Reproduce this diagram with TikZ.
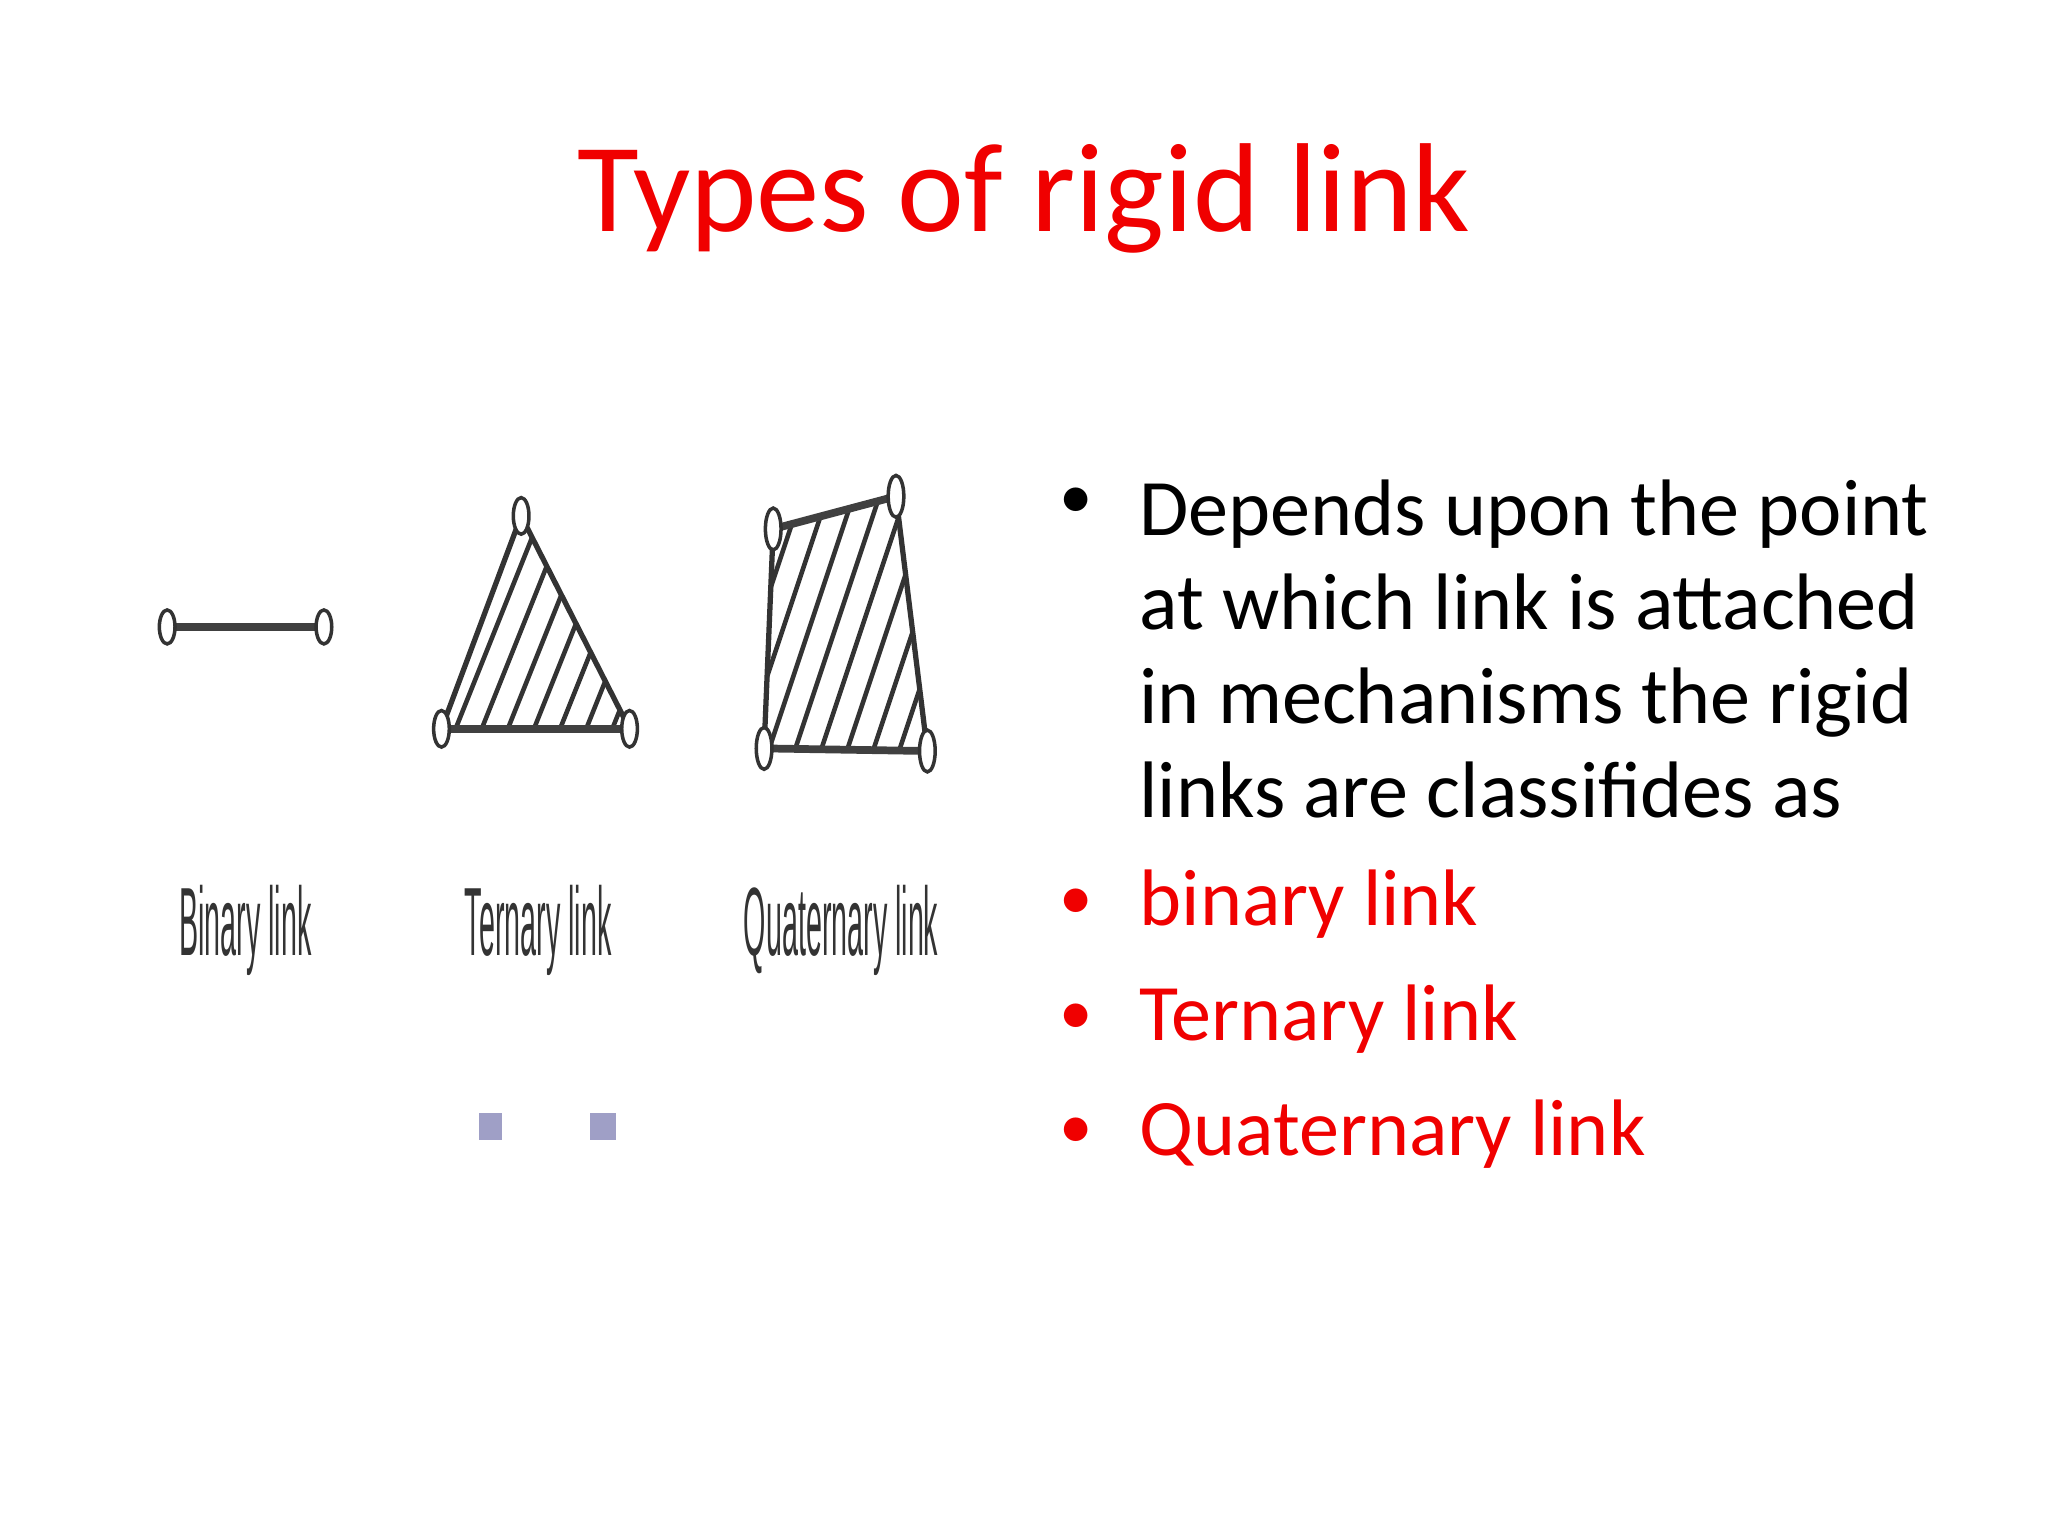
\documentclass[tikz,border=0pt]{standalone}
\usepackage{fontspec}
\setmainfont{Carlito}
\newfontfamily\labfont{Liberation Sans}
\definecolor{tred}{RGB}{240,0,0}
\begin{document}
\begin{tikzpicture}[x=0.01306cm,y=-0.01306cm,
  bar/.style={line width=2.2pt,black!75},
  lab/.style={font=\labfont\fontsize{24}{24}\selectfont,text=black!80,xscale=0.34,yscale=1.15},
  bul/.style={anchor=west,font=\fontsize{22.8}{26.7}\selectfont},
  dot/.style={font=\fontsize{19}{20}\selectfont}]
\useasboundingbox (0,0) rectangle (1568,1176);
\node[font=\fontsize{36}{44}\selectfont,text=tred] (title) at (784,152) {Types of rigid link};
% binary
\coordinate (b1) at (128,480); \coordinate (b2) at (248,480);
\draw[bar] (b1)--(b2);
\foreach \p in {b1,b2} \draw[black!80,fill=white,line width=1pt] (\p) ellipse (6 and 13);
\node[lab] (lb) at (188,712) {Binary link};
% ternary
\coordinate (t1) at (399,395); \coordinate (t2) at (338,558); \coordinate (t3) at (482,558);
\begin{scope}
\clip (t1)--(t2)--(t3)--cycle;
\foreach \i in {-20,0,...,200} \draw[line width=1.3pt,black!80] (300+\i,580)--(380+\i,380);
\end{scope}
\draw[line width=1.5pt,black!80] (t1)--(t2);
\draw[line width=1.5pt,black!80] (t1)--(t3);
\draw[bar] (t2)--(t3);
\foreach \p in {t1,t2,t3} \draw[black!80,fill=white,line width=1pt] (\p) ellipse (6 and 14);
\node[lab] (lt) at (412,712) {Ternary link};
% quaternary
\coordinate (q1) at (592,405); \coordinate (q2) at (686,380); \coordinate (q3) at (710,575); \coordinate (q4) at (585,573);
\begin{scope}
\clip (q1)--(q2)--(q3)--(q4)--cycle;
\foreach \i in {-40,-20,...,160} \draw[line width=1.3pt,black!80] (560+\i,600)--(640+\i,360);
\end{scope}
\draw[line width=1.5pt,black!80] (q1)--(q4) (q2)--(q3);
\draw[bar] (q1)--(q2) (q3)--(q4);
\foreach \p in {q1,q2,q3,q4} \draw[black!80,fill=white,line width=1pt] (\p) ellipse (6 and 16);
\node[lab] (lq) at (644,712) {Quaternary link};
\fill[blue!25!gray!60] (367,852) rectangle (384,873);
\fill[blue!25!gray!60] (452,852) rectangle (472,873);
% bullets
\node[dot] (d1) at (824,385) {•};
\node[bul,align=left,anchor=north west] (d) at (863,358) {Depends upon the point\\at which link is attached\\in mechanisms the rigid\\links are classifides as};
\foreach \y/\t [count=\k] in {692/binary link,780/Ternary link,868/Quaternary link}{
  \node[dot,text=tred] (bb\k) at (824,\y) {•};
  \node[bul,text=tred] (bt\k) at (863,\y) {\t};}
\end{tikzpicture}
\end{document}
